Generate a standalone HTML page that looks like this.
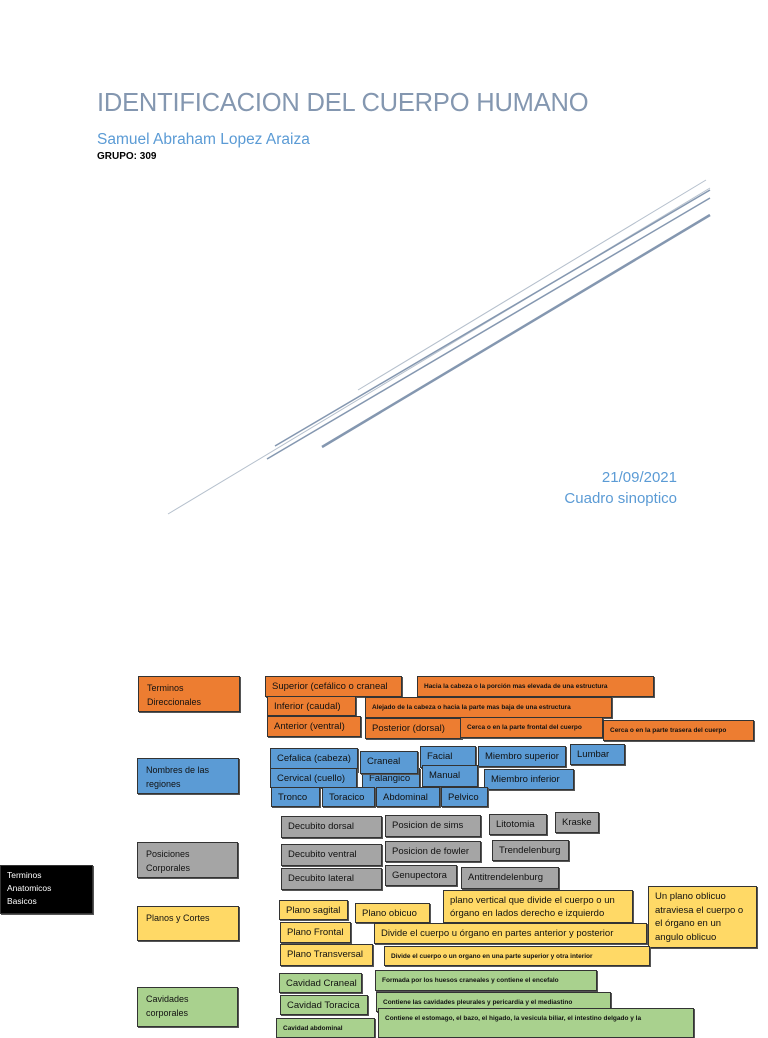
<!DOCTYPE html>
<html><head><meta charset="utf-8"><style>
body{margin:0;width:768px;height:1024px;position:relative;overflow:hidden;background:#fff;font-family:"Liberation Sans",sans-serif;}
.b{position:absolute;box-sizing:border-box;border:1px solid #333;font-size:9.5px;color:#111;padding:3px 6px;line-height:13px;white-space:nowrap;overflow:hidden;box-shadow:1px 1px 0 #555}
.s{font-size:6.5px;font-weight:bold}
.l{font-size:9px;line-height:14px;padding:4px 8px;white-space:nowrap}
.o{background:#ED7D31}.u{background:#5B9BD5}.g{background:#A5A5A5}.y{background:#FFD966}.v{background:#A9D18E}
.t{position:absolute;white-space:nowrap}
</style></head><body>
<div class="t" style="left:97px;top:89px;font-size:25.5px;color:#8497B0;letter-spacing:-0.2px">IDENTIFICACION DEL CUERPO HUMANO</div>
<div class="t" style="left:97px;top:131px;font-size:15.5px;color:#5B9BD5">Samuel Abraham Lopez Araiza</div>
<div class="t" style="left:97px;top:151px;font-size:10px;font-weight:bold;color:#000">GRUPO: 309</div>
<div class="t" style="right:91px;top:469px;font-size:15px;color:#5B9BD5">21/09/2021</div>
<div class="t" style="right:91px;top:490px;font-size:15px;color:#5B9BD5">Cuadro sinoptico</div>
<svg style="position:absolute;left:0;top:0" width="768" height="600">
<line x1="168" y1="514" x2="710" y2="188" stroke="#B4BFCC" stroke-width="1"/>
<line x1="275" y1="446" x2="710" y2="190" stroke="#8497B0" stroke-width="1.5"/>
<line x1="267" y1="459" x2="710" y2="198" stroke="#8497B0" stroke-width="1.5"/>
<line x1="322" y1="447" x2="710" y2="215" stroke="#8497B0" stroke-width="2.5"/>
<line x1="358" y1="390" x2="706" y2="180" stroke="#B4BFCC" stroke-width="1"/>
</svg>
<div class="b" style="left:0;top:865px;width:93px;height:49px;background:#000;color:#fff;font-size:8.5px;line-height:13px;padding:3px 6px">Terminos<br>Anatomicos<br>Basicos</div>

<div class="b o l" style="left:138px;top:676px;width:102px;height:36px">Terminos<br>Direccionales</div>
<div class="b o" style="left:265px;top:676px;width:137px;height:21px">Superior (cefálico o craneal</div>
<div class="b o s" style="left:417px;top:676px;width:237px;height:21px">Hacia la cabeza o la porción mas elevada de una estructura</div>
<div class="b o" style="left:267px;top:696px;width:89px;height:20px">Inferior (caudal)</div>
<div class="b o s" style="left:365px;top:697px;width:247px;height:21px">Alejado de la cabeza o hacia la parte mas baja de una estructura</div>
<div class="b o" style="left:267px;top:716px;width:94px;height:21px">Anterior (ventral)</div>
<div class="b o" style="left:365px;top:718px;width:97px;height:21px">Posterior (dorsal)</div>
<div class="b o s" style="left:460px;top:717px;width:143px;height:21px">Cerca o en la parte frontal del cuerpo</div>
<div class="b o s" style="left:603px;top:720px;width:151px;height:21px">Cerca o en la parte trasera del cuerpo</div>

<div class="b u l" style="left:137px;top:758px;width:102px;height:36px">Nombres de las<br>regiones</div>
<div class="b u" style="left:270px;top:748px;width:88px;height:24px">Cefalica (cabeza)</div>
<div class="b u" style="left:420px;top:746px;width:56px;height:22px">Facial</div>
<div class="b u" style="left:478px;top:746px;width:88px;height:21px">Miembro superior</div>
<div class="b u" style="left:570px;top:744px;width:55px;height:21px">Lumbar</div>
<div class="b u" style="left:270px;top:768px;width:87px;height:20px">Cervical (cuello)</div>
<div class="b u" style="left:362px;top:768px;width:58px;height:21px">Falangico</div>
<div class="b u" style="left:360px;top:751px;width:58px;height:23px">Craneal</div>
<div class="b u" style="left:422px;top:765px;width:56px;height:22px">Manual</div>
<div class="b u" style="left:484px;top:769px;width:90px;height:21px">Miembro inferior</div>
<div class="b u" style="left:271px;top:787px;width:49px;height:20px">Tronco</div>
<div class="b u" style="left:322px;top:787px;width:53px;height:20px">Toracico</div>
<div class="b u" style="left:376px;top:787px;width:64px;height:20px">Abdominal</div>
<div class="b u" style="left:441px;top:787px;width:47px;height:20px">Pelvico</div>

<div class="b g l" style="left:137px;top:842px;width:101px;height:36px">Posiciones<br>Corporales</div>
<div class="b g" style="left:281px;top:816px;width:101px;height:22px">Decubito dorsal</div>
<div class="b g" style="left:385px;top:815px;width:96px;height:22px">Posicion de sims</div>
<div class="b g" style="left:489px;top:814px;width:58px;height:21px">Litotomia</div>
<div class="b g" style="left:555px;top:812px;width:44px;height:21px">Kraske</div>
<div class="b g" style="left:281px;top:844px;width:101px;height:22px">Decubito ventral</div>
<div class="b g" style="left:385px;top:841px;width:96px;height:21px">Posicion de fowler</div>
<div class="b g" style="left:492px;top:840px;width:77px;height:21px">Trendelenburg</div>
<div class="b g" style="left:281px;top:868px;width:101px;height:22px">Decubito lateral</div>
<div class="b g" style="left:385px;top:865px;width:72px;height:21px">Genupectora</div>
<div class="b g" style="left:461px;top:867px;width:98px;height:22px">Antitrendelenburg</div>

<div class="b y l" style="left:137px;top:906px;width:102px;height:35px">Planos y Cortes</div>
<div class="b y" style="left:279px;top:900px;width:69px;height:20px">Plano sagital</div>
<div class="b y" style="left:355px;top:903px;width:75px;height:20px">Plano obicuo</div>
<div class="b y" style="left:443px;top:890px;width:190px;height:33px;white-space:normal">plano vertical que divide el cuerpo o un órgano en lados derecho e izquierdo</div>
<div class="b y" style="left:648px;top:886px;width:109px;height:62px;white-space:normal;line-height:13.5px">Un plano oblicuo atraviesa el cuerpo o el órgano en un angulo oblicuo</div>
<div class="b y" style="left:280px;top:922px;width:71px;height:21px">Plano Frontal</div>
<div class="b y" style="left:374px;top:923px;width:273px;height:21px">Divide el cuerpo u órgano en partes anterior y posterior</div>
<div class="b y" style="left:280px;top:944px;width:93px;height:22px">Plano Transversal</div>
<div class="b y s" style="left:384px;top:946px;width:266px;height:20px">Divide el cuerpo o un organo en una parte superior y otra interior</div>

<div class="b v l" style="left:137px;top:987px;width:101px;height:40px">Cavidades<br>corporales</div>
<div class="b v" style="left:279px;top:973px;width:83px;height:20px">Cavidad Craneal</div>
<div class="b v s" style="left:375px;top:970px;width:222px;height:21px">Formada por los huesos craneales y contiene el encefalo</div>
<div class="b v" style="left:280px;top:995px;width:88px;height:20px">Cavidad Toracica</div>
<div class="b v s" style="left:376px;top:992px;width:235px;height:20px">Contiene las cavidades pleurales y pericardia y el mediastino</div>
<div class="b v s" style="left:276px;top:1018px;width:99px;height:20px">Cavidad abdominal</div>
<div class="b v s" style="left:378px;top:1008px;width:316px;height:30px">Contiene el estomago, el bazo, el higado, la vesicula biliar, el intestino delgado y la</div>
</body></html>
